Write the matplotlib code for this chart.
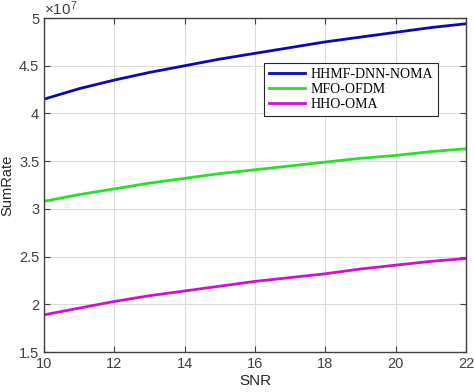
import numpy as np
import matplotlib
matplotlib.use('Agg')
import matplotlib.pyplot as plt
from matplotlib.ticker import FuncFormatter

# Datos (SumRate en unidades de 1e7)
snr = [10, 11, 12, 13, 14, 15, 16, 17, 18, 19, 20, 21, 22]
hhmf_dnn_noma = [4.15, 4.26, 4.35, 4.43, 4.50, 4.57, 4.63, 4.69, 4.75, 4.80, 4.85, 4.90, 4.94]
mfo_ofdm = [3.08, 3.15, 3.21, 3.27, 3.32, 3.37, 3.41, 3.45, 3.49, 3.53, 3.56, 3.60, 3.63]
hho_oma = [1.89, 1.96, 2.03, 2.09, 2.14, 2.19, 2.24, 2.28, 2.32, 2.37, 2.41, 2.45, 2.48]
labels = ['HHMF-DNN-NOMA', 'MFO-OFDM', 'HHO-OMA']
colors = ['#0a0ab4', '#28e028', '#d010d0']

plt.rcParams['font.family'] = ['Liberation Sans', 'DejaVu Sans']
plt.rcParams['mathtext.fontset'] = 'custom'
plt.rcParams['mathtext.rm'] = 'Liberation Sans'

fig = plt.figure(figsize=(4.74, 3.92), dpi=100)
ax = fig.add_axes([0.093, 0.102, 0.890, 0.852])

x = np.array(snr)
for ys, lab, c in zip([hhmf_dnn_noma, mfo_ofdm, hho_oma], labels, colors):
    ax.plot(x, np.array(ys) * 1e7, color=c, linewidth=2.0, label=lab)

ax.set_xlim(10, 22)
ax.set_ylim(1.5e7, 5e7)
ax.set_xticks([10, 12, 14, 16, 18, 20, 22])
ax.set_yticks(np.arange(1.5e7, 5.01e7, 0.5e7))
ax.yaxis.set_major_formatter(FuncFormatter(lambda v, p: '%g' % (v / 1e7)))

# factor de escala estilo MATLAB
ax.text(0.0, 1.0, r'$\times\mathregular{10^{7}}$', transform=ax.transAxes,
        fontsize=11, color='#404040', ha='left', va='bottom')

ax.grid(True, color='#dcdcdc', linewidth=0.8)
ax.set_axisbelow(True)
ax.tick_params(direction='in', top=True, right=True, labelsize=10.5,
               colors='#404040', length=4)
for s in ax.spines.values():
    s.set_color('#404040')
    s.set_linewidth(1.0)

ax.set_xlabel('SNR', fontsize=11, color='#262626', labelpad=2)
ax.set_ylabel('SumRate', fontsize=10.5, color='#262626', labelpad=3)

leg = ax.legend(loc='upper left', bbox_to_anchor=(0.521, 0.865), borderaxespad=0,
                fancybox=False, edgecolor='#262626', framealpha=1, borderpad=0.35,
                labelspacing=0.15, handlelength=2.6, handletextpad=0.4,
                prop={'family': 'Liberation Serif', 'size': 10})
leg.get_frame().set_linewidth(0.8)

fig.savefig('out.png', dpi=100)
